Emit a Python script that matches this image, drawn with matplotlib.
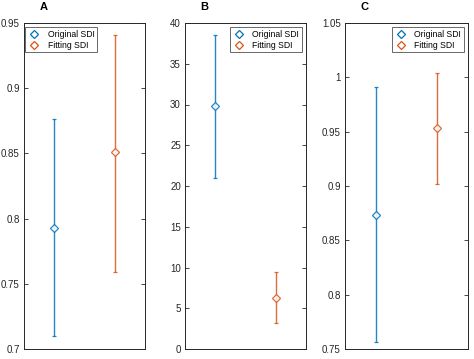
import matplotlib
matplotlib.use("Agg")
import matplotlib.pyplot as plt
from matplotlib.lines import Line2D

panels = ["A", "B", "C"]
series = ["Original SDI", "Fitting SDI"]
centers = {"A": [0.793, 0.851], "B": [29.8, 6.3], "C": [0.873, 0.953]}
lowers = {"A": [0.710, 0.759], "B": [21.0, 3.2], "C": [0.756, 0.902]}
uppers = {"A": [0.876, 0.941], "B": [38.5, 9.4], "C": [0.991, 1.004]}
ylims = {"A": (0.7, 0.95), "B": (0, 40), "C": (0.75, 1.05)}
yticks = {"A": [0.7, 0.75, 0.8, 0.85, 0.9, 0.95],
          "B": [0, 5, 10, 15, 20, 25, 30, 35, 40],
          "C": [0.75, 0.8, 0.85, 0.9, 0.95, 1.0, 1.05]}
yticklabels = {"A": ["0.7", "0.75", "0.8", "0.85", "0.9", "0.95"],
               "B": ["0", "5", "10", "15", "20", "25", "30", "35", "40"],
               "C": ["0.75", "0.8", "0.85", "0.9", "0.95", "1", "1.05"]}
colors = ["#0072BD", "#D95319"]

plt.rcParams['font.family'] = ['Liberation Sans', 'DejaVu Sans']
fig = plt.figure(figsize=(4.74, 3.59), dpi=100)
W, H = 474, 359
rects = {"A": (24, 145), "B": (185, 306), "C": (345, 468)}
top, bottom = 23, 349

for p in panels:
    l, r = rects[p]
    ax = fig.add_axes([l / W, 1 - bottom / H, (r - l) / W, (bottom - top) / H])
    for i in range(2):
        c = centers[p][i]
        lo = lowers[p][i]
        hi = uppers[p][i]
        ax.errorbar([i + 1], [c], yerr=[[c - lo], [hi - c]], fmt='D',
                    color=colors[i], mfc='white', mec=colors[i], ms=4,
                    mew=0.9, elinewidth=1.0, capsize=1.5, capthick=0.8,
                    alpha=0.85)
    ax.set_xlim(0.5, 2.5)
    ax.set_ylim(*ylims[p])
    ax.set_yticks(yticks[p])
    ax.set_yticklabels(yticklabels[p])
    ax.set_xticks([])
    ax.tick_params(axis='y', direction='in', right=True, length=3,
                   width=0.6, labelsize=7, colors='#262626', pad=3)
    for s in ax.spines.values():
        s.set_linewidth(0.7)
        s.set_color('#262626')
    handles = [Line2D([], [], ls='none', marker='D', ms=4, mfc='white',
                      mec=colors[i], mew=0.9) for i in range(2)]
    leg = ax.legend(handles, series, loc='upper right', fontsize=6.2,
                    frameon=True, fancybox=False, edgecolor='#262626',
                    handlelength=1.5, handletextpad=0.8, borderpad=0.3,
                    labelspacing=0.2, borderaxespad=0.5)
    leg.get_frame().set_linewidth(0.6)
    if p == "A":
        leg.set_bbox_to_anchor((0.64, 1.0), transform=ax.transAxes)
    ax.text(0.16, 1.035, p, transform=ax.transAxes, fontsize=8,
            fontweight='bold', ha='center', va='bottom')

fig.savefig("out.png", dpi=100, facecolor='white')
